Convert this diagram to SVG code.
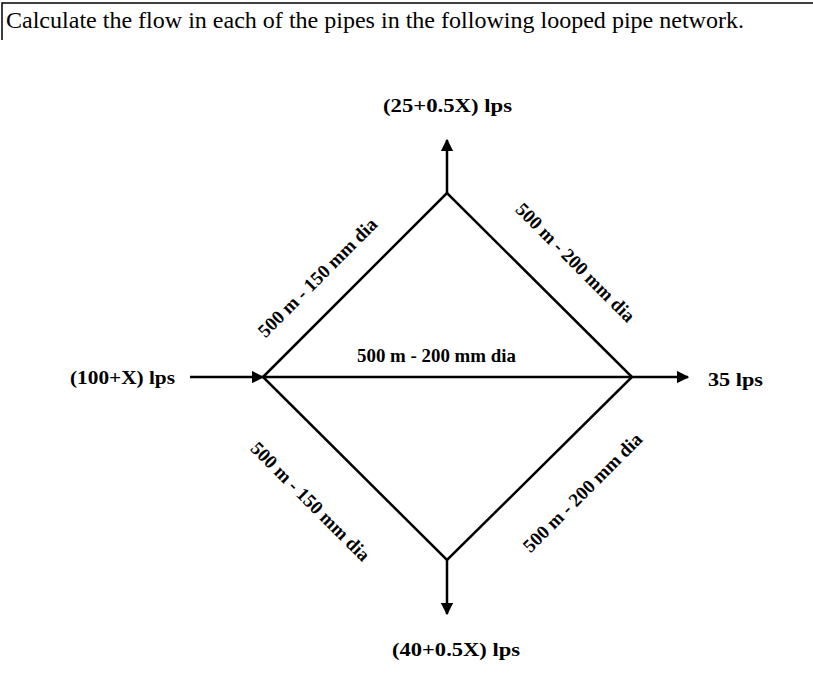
<svg xmlns="http://www.w3.org/2000/svg" width="813" height="687" viewBox="0 0 813 687">
<style>
.t{font-family:"Liberation Serif",serif;font-size:23px;fill:#000}
.b{font-family:"Liberation Serif",serif;font-size:19px;font-weight:bold;fill:#000}
.p{stroke:#000;stroke-width:2.5;fill:none}
</style>
<defs><marker id="a" viewBox="0 0 10 10" refX="9" refY="5" markerWidth="5" markerHeight="5" orient="auto" markerUnits="strokeWidth"><path d="M0,0L10,5L0,10Z" fill="#000"/></marker></defs>
<rect width="813" height="687" fill="#fff"/>
<path d="M813,3H2V40" stroke="#000" stroke-width="1.5" fill="none"/>
<text class="t" x="6" y="28" textLength="738" lengthAdjust="spacingAndGlyphs">Calculate the flow in each of the pipes in the following looped pipe network.</text>
<g id="connectors">
<path class="p" d="M263,377L447,193L632,377L447,560Z M263,377H632"/>
<line class="p" x1="190" y1="377" x2="263" y2="377" marker-end="url(#a)"/>
<line class="p" x1="632" y1="377" x2="688" y2="377" marker-end="url(#a)"/>
<line class="p" x1="447" y1="193" x2="447" y2="140" marker-end="url(#a)"/>
<line class="p" x1="447" y1="560" x2="447" y2="614" marker-end="url(#a)"/>
</g>
<g id="n_top"><text class="b" x="383" y="112" textLength="129" lengthAdjust="spacingAndGlyphs">(25+0.5X) lps</text></g>
<g id="n_left"><text class="b" x="70" y="384" textLength="105" lengthAdjust="spacingAndGlyphs">(100+X) lps</text></g>
<g id="n_right"><text class="b" x="708" y="386" textLength="55" lengthAdjust="spacingAndGlyphs">35 lps</text></g>
<g id="n_bottom"><text class="b" x="392" y="656" textLength="128" lengthAdjust="spacingAndGlyphs">(40+0.5X) lps</text></g>
<g id="labels">
<text class="b" x="357" y="362" textLength="159" lengthAdjust="spacingAndGlyphs">500 m - 200 mm dia</text>
<text class="b" text-anchor="middle" transform="translate(322,282) rotate(-45)">500 m - 150 mm dia</text>
<text class="b" text-anchor="middle" transform="translate(571,267) rotate(45)">500 m - 200 mm dia</text>
<text class="b" text-anchor="middle" transform="translate(306,506) rotate(45)">500 m - 150 mm dia</text>
<text class="b" text-anchor="middle" transform="translate(587,497) rotate(-45)">500 m - 200 mm dia</text>
</g>
</svg>
